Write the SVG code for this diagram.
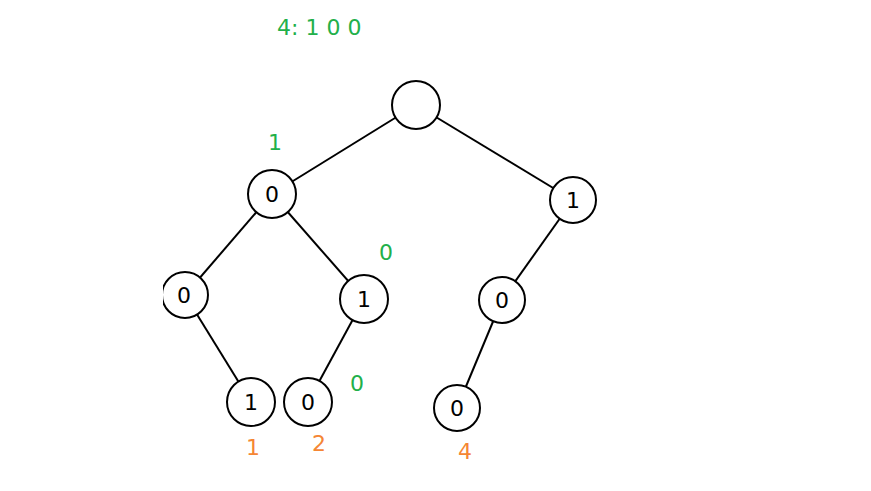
<svg xmlns="http://www.w3.org/2000/svg" width="871" height="491" viewBox="0 0 871 491">
<style>
circle{fill:#fff;stroke:#000;stroke-width:2}
line{stroke:#000;stroke-width:2}
.t{font-family:"DejaVu Sans",sans-serif;font-size:22px;text-anchor:middle;fill:#000}
.g{font-family:"DejaVu Sans",sans-serif;font-size:22px;fill:#22b04a}
.o{font-family:"DejaVu Sans",sans-serif;font-size:22px;fill:#f58634;text-anchor:middle}
</style>
<defs><clipPath id="c"><rect x="163" y="0" width="708" height="491"/></clipPath></defs>
<g id="connectors">
<line x1="416" y1="105" x2="272" y2="194"/>
<line x1="416" y1="105" x2="573" y2="200"/>
<line x1="272" y1="194" x2="185" y2="295"/>
<line x1="272" y1="194" x2="364" y2="299"/>
<line x1="185" y1="295" x2="251" y2="402"/>
<line x1="364" y1="299" x2="308" y2="402"/>
<line x1="573" y1="200" x2="502" y2="300"/>
<line x1="502" y1="300" x2="457" y2="408"/>
</g>
<g id="root"><circle cx="416" cy="105" r="24"/></g>
<g id="n0"><circle cx="272" cy="194" r="24"/><text class="t" x="272" y="202">0</text></g>
<g id="n1"><circle cx="573" cy="200" r="23"/><text class="t" x="573" y="208">1</text></g>
<g id="n00" clip-path="url(#c)"><circle cx="185" cy="295" r="23"/><text class="t" x="184" y="303">0</text></g>
<g id="n01"><circle cx="364" cy="299" r="24"/><text class="t" x="364" y="307">1</text></g>
<g id="n10"><circle cx="502" cy="300" r="23"/><text class="t" x="502" y="308">0</text></g>
<g id="n001"><circle cx="251" cy="402" r="24"/><text class="t" x="251" y="410">1</text></g>
<g id="n010"><circle cx="308" cy="402" r="24"/><text class="t" x="308" y="410">0</text></g>
<g id="n100"><circle cx="457" cy="408" r="23"/><text class="t" x="457" y="416">0</text></g>
<text class="g" x="277" y="35">4:  1 0 0</text>
<text class="g" x="268" y="150">1</text>
<text class="g" x="379" y="260">0</text>
<text class="g" x="350" y="391">0</text>
<text class="o" x="253" y="455">1</text>
<text class="o" x="319" y="451">2</text>
<text class="o" x="465" y="459">4</text>
</svg>
